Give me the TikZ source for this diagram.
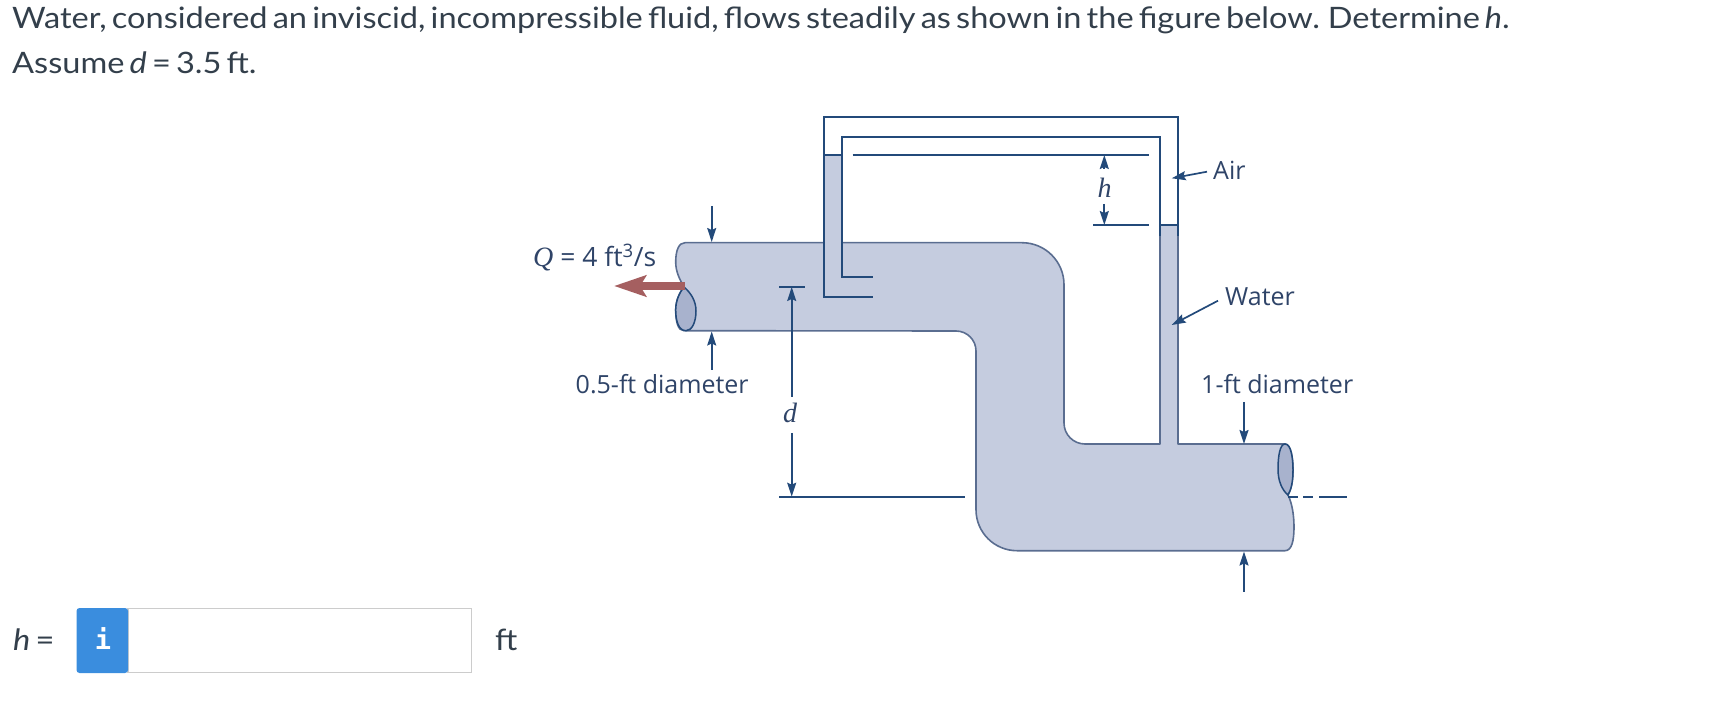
\documentclass[tikz,border=0pt]{standalone}
\usepackage{fontspec}
\setmainfont[FakeStretch=1.103,WordSpace=0.62]{Lato}
\newfontfamily\figfont{Open Sans}
\newfontfamily\figserif{Liberation Serif}
\newfontfamily\infofont{DejaVu Sans Mono}
\usetikzlibrary{arrows.meta}
\definecolor{pipefill}{HTML}{C5CCDF}
\definecolor{pipeend}{HTML}{A8B2CD}
\definecolor{pipeline}{HTML}{5A6D90}
\definecolor{tubeline}{HTML}{234A7A}
\definecolor{redarrow}{HTML}{A55F60}
\definecolor{qtext}{HTML}{333F4B}
\definecolor{figtext}{HTML}{2F4468}
\definecolor{boxline}{HTML}{CCCCCC}
\definecolor{infoblue}{HTML}{3A8DDE}
\tikzset{
  pipe/.style={draw=pipeline,line width=1.6pt,line join=round},
  tube/.style={draw=tubeline,line width=1.9pt,line join=miter},
  dim/.style={draw=tubeline,line width=1.7pt,-{Stealth[length=14pt,width=9pt,inset=2pt]}},
  question/.style={inner sep=0pt,anchor=base west,text=qtext,font=\fontsize{29.5}{29.5}\selectfont},
  fig/.style={inner sep=0pt,anchor=base west,text=figtext,font=\fontsize{25}{25}\selectfont\figfont},
  figit/.style={inner sep=0pt,anchor=base,text=figtext,font=\fontsize{28}{28}\selectfont\figserif\itshape}
}
\begin{document}
\begin{tikzpicture}[x=1pt,y=-1pt]
\useasboundingbox (0,0) rectangle (1722,708);
% question text
\node[question] (q1) at (12,29) {Water, considered an inviscid, incompressible fluid, flows steadily as shown in the figure below. Determine \textit{h}.};
\node[question] (q2) at (12,74) {Assume \textit{d} = 3.5 ft.};
% pipe
\path[pipe,fill=pipefill] (685,242.7) -- (1022,242.7) arc[start angle=-90,end angle=0,radius=42] -- (1064,423)
  arc[start angle=180,end angle=90,radius=21] -- (1160,444) -- (1160,225) -- (1178,225) -- (1178,444) -- (1285,444)
  .. controls (1291,444) and (1293,458) .. (1293,470) .. controls (1293,482) and (1291,490) .. (1288,495)
  .. controls (1292,503) and (1294,515) .. (1294,527) .. controls (1294,540) and (1292,550.7) .. (1285,550.7)
  -- (1017,550.7) arc[start angle=90,end angle=180,radius=41] -- (976,351)
  arc[start angle=0,end angle=-90,radius=20] -- (684,330.7)
  .. controls (678,330.7) and (675.7,322) .. (675.7,310) .. controls (675.7,300) and (680,292) .. (684,287)
  .. controls (680,280) and (675.7,272) .. (675.7,262) .. controls (675.7,250) and (679,242.7) .. (685,242.7) -- cycle;
% left end ellipse
\path[draw=tubeline,line width=1.5pt,fill=pipeend] (684,287) .. controls (691,293) and (696,301) .. (696,311)
  .. controls (696,322) and (692,330.7) .. (686,330.7) .. controls (679,330.7) and (675.7,322) .. (675.7,310)
  .. controls (675.7,300) and (680,292) .. (684,287) -- cycle;
% right end ellipse
\path[draw=tubeline,line width=1.5pt,fill=pipeend] (1285,444) .. controls (1291,444) and (1293,458) .. (1293,470)
  .. controls (1293,482) and (1291,490) .. (1288,495) .. controls (1282,490) and (1278,481) .. (1278,469)
  .. controls (1278,456) and (1280,444) .. (1285,444) -- cycle;
% tube water (left leg)
\fill[pipefill] (824,155) rectangle (842,296.7);
% tubes
\draw[tube] (872.7,296.7) -- (824,296.7) -- (824,116.7) -- (1177.7,116.7) -- (1177.7,236);
\draw[tube] (872.7,276.7) -- (842,276.7) -- (842,137) -- (1159.7,137) -- (1159.7,236);
\draw[tube] (824,155) -- (842,155);
\draw[tube] (1159.7,225) -- (1177.7,225);
% reference lines for h
\coordinate (hTop) at (1104.3,155);
\coordinate (hBot) at (1104.3,225);
\coordinate (hUp) at (1104.3,169);
\coordinate (hDn) at (1104.3,204);
\draw[tube] (852.7,155) -- (1149,155);
\draw[tube] (1093,225) -- (1149,225);
\draw[dim] (hUp) -- (hTop);
\draw[dim] (hDn) -- (hBot);
\node[figit] (hlab) at (1104.5,198) {h};
% 0.5 ft dims
\coordinate (a1) at (711.7,206);
\coordinate (a2) at (711.7,242);
\coordinate (a3) at (711.7,370);
\coordinate (a4) at (711.7,331.5);
\draw[dim] (a1) -- (a2);
\draw[dim] (a3) -- (a4);
% d dims
\coordinate (d1) at (791.7,397);
\coordinate (d2) at (791.7,287);
\coordinate (d3) at (791.7,433);
\coordinate (d4) at (791.7,496.7);
\draw[tube] (779,286.7) -- (805,286.7);
\draw[tube] (779,496.7) -- (965,496.7);
\draw[dim] (d1) -- (d2);
\draw[dim] (d3) -- (d4);
\node[figit] (dlab) at (790,423) {d};
% 1 ft dims
\coordinate (b1) at (1244,402);
\coordinate (b2) at (1244,444);
\coordinate (b3) at (1244,591.7);
\coordinate (b4) at (1244,551.5);
\draw[dim] (b1) -- (b2);
\draw[dim] (b3) -- (b4);
% center line
\draw[draw=tubeline,line width=1.6pt] (1288,496.7) -- (1298,496.7) (1303,496.7) -- (1313,496.7) (1319,496.7) -- (1347,496.7);
% red arrow
\coordinate (r1) at (685,286);
\coordinate (r2) at (614,286);
\draw[draw=redarrow,fill=redarrow,line width=7.5pt,-{Stealth[length=32pt,width=21pt,inset=6pt]}] (r1) -- (r2);
% Air / Water
\coordinate (air1) at (1207,171.7);
\coordinate (air2) at (1171.7,178.3);
\coordinate (wat1) at (1218,300.7);
\coordinate (wat2) at (1171.7,325);
\draw[dim] (air1) -- (air2);
\draw[dim] (wat1) -- (wat2);
% labels
\node[fig,font=\fontsize{26.5}{26.5}\selectfont\figfont] (Q) at (533,266.5) {{\figserif\itshape\fontsize{28}{28}\selectfont Q}\ = 4 ft\textsuperscript{3}/s};
\node[fig] (dia1) at (575.5,394) {0.5-ft diameter};
\node[fig] (dia2) at (1201,394) {1-ft diameter};
\node[fig] (air) at (1213,179.3) {Air};
\node[fig] (water) at (1225,305.7) {Water};
% answer row
\node[question] (hans) at (13,650) {\textit{h} =};
\draw[boxline,line width=1.8pt,fill=white] (128,608.5) rectangle (471.5,672.5);
\path[fill=infoblue,rounded corners=3pt] (128,608) -- (76.5,608) -- (76.5,673) -- (128,673) -- cycle;
\node[inner sep=0pt,text=white,font=\fontsize{27}{27}\selectfont\infofont\bfseries] (info) at (103,639) {i};
\node[question] (ft) at (495,650) {ft};
\end{tikzpicture}
\end{document}
